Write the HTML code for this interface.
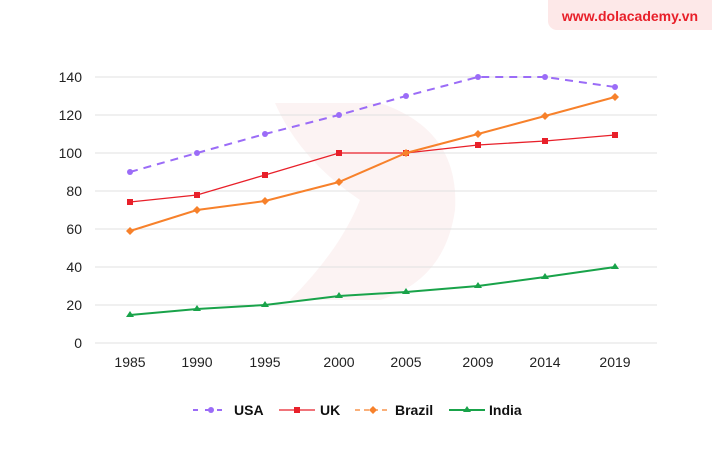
<!DOCTYPE html><html><head><style>body{margin:0;background:#fff}svg{display:block;font-family:"Liberation Sans",sans-serif}</style></head><body>
<svg width="712" height="461" viewBox="0 0 712 461">
<rect x="548" y="-10" width="175" height="40" rx="9" fill="#fde8e8"/>
<text x="630" y="21" font-size="14" font-weight="bold" fill="#e8202a" text-anchor="middle">www.dolacademy.vn</text>
<path d="M275 103 L380 103 Q460 130 455 210 Q445 280 380 300 L290 300 Q340 250 360 200 Q300 160 275 103Z" fill="#fbeeee" opacity="0.7"/>
<g stroke="#e0e0e0" stroke-width="1">
<line x1="95" y1="77" x2="657" y2="77"/><line x1="95" y1="115" x2="657" y2="115"/><line x1="95" y1="153" x2="657" y2="153"/><line x1="95" y1="191" x2="657" y2="191"/><line x1="95" y1="229" x2="657" y2="229"/><line x1="95" y1="267" x2="657" y2="267"/><line x1="95" y1="305" x2="657" y2="305"/><line x1="95" y1="343" x2="657" y2="343"/>
</g>
<g font-size="14" fill="#222" text-anchor="end">
<text x="82" y="82">140</text><text x="82" y="120">120</text><text x="82" y="158">100</text><text x="82" y="196">80</text><text x="82" y="234">60</text><text x="82" y="272">40</text><text x="82" y="310">20</text><text x="82" y="348">0</text>
</g>
<g font-size="14" fill="#222" text-anchor="middle">
<text x="130" y="367">1985</text><text x="197" y="367">1990</text><text x="265" y="367">1995</text><text x="339" y="367">2000</text><text x="406" y="367">2005</text><text x="478" y="367">2009</text><text x="545" y="367">2014</text><text x="615" y="367">2019</text>
</g>
<polyline fill="none" stroke="#9b6cf7" stroke-width="2" stroke-dasharray="8,6" points="130,172 197,153 265,134 339,115 406,96 478,77 545,77 615,87"/>
<g fill="#9b6cf7"><circle cx="130" cy="172" r="3"/><circle cx="197" cy="153" r="3"/><circle cx="265" cy="134" r="3"/><circle cx="339" cy="115" r="3"/><circle cx="406" cy="96" r="3"/><circle cx="478" cy="77" r="3"/><circle cx="545" cy="77" r="3"/><circle cx="615" cy="87" r="3"/></g>
<polyline fill="none" stroke="#e8202a" stroke-width="1.3" points="130,202 197,195 265,175 339,153 406,153 478,145 545,141 615,135"/>
<g fill="#e8202a"><rect x="127" y="199" width="6" height="6"/><rect x="194" y="192" width="6" height="6"/><rect x="262" y="172" width="6" height="6"/><rect x="336" y="150" width="6" height="6"/><rect x="403" y="150" width="6" height="6"/><rect x="475" y="142" width="6" height="6"/><rect x="542" y="138" width="6" height="6"/><rect x="612" y="132" width="6" height="6"/></g>
<polyline fill="none" stroke="#f7812b" stroke-width="2" points="130,231 197,210 265,201 339,182 406,153 478,134 545,116 615,97"/>
<g fill="#f7812b"><path d="M130 227l4 4-4 4-4-4z"/><path d="M197 206l4 4-4 4-4-4z"/><path d="M265 197l4 4-4 4-4-4z"/><path d="M339 178l4 4-4 4-4-4z"/><path d="M406 149l4 4-4 4-4-4z"/><path d="M478 130l4 4-4 4-4-4z"/><path d="M545 112l4 4-4 4-4-4z"/><path d="M615 93l4 4-4 4-4-4z"/></g>
<polyline fill="none" stroke="#19a34a" stroke-width="2" points="130,315 197,309 265,305 339,296 406,292 478,286 545,277 615,267"/>
<g fill="#19a34a"><path d="M130 311l4 6h-8z"/><path d="M197 305l4 6h-8z"/><path d="M265 301l4 6h-8z"/><path d="M339 292l4 6h-8z"/><path d="M406 288l4 6h-8z"/><path d="M478 282l4 6h-8z"/><path d="M545 273l4 6h-8z"/><path d="M615 263l4 6h-8z"/></g>
<g font-size="14" font-weight="bold" fill="#111">
<line x1="193" y1="410" x2="229" y2="410" stroke="#9b6cf7" stroke-width="2" stroke-dasharray="5,7"/><circle cx="211" cy="410" r="3" fill="#9b6cf7"/><text x="234" y="415">USA</text>
<line x1="279" y1="410" x2="315" y2="410" stroke="#e8202a" stroke-width="1.3"/><rect x="294" y="407" width="6" height="6" fill="#e8202a"/><text x="320" y="415">UK</text>
<line x1="355" y1="410" x2="391" y2="410" stroke="#f7812b" stroke-width="1.3" stroke-dasharray="5,4"/><path d="M373 406l4 4-4 4-4-4z" fill="#f7812b"/><text x="395" y="415">Brazil</text>
<line x1="449" y1="410" x2="485" y2="410" stroke="#19a34a" stroke-width="2"/><path d="M467 406l4 6h-8z" fill="#19a34a"/><text x="489" y="415">India</text>
</g>
</svg></body></html>
